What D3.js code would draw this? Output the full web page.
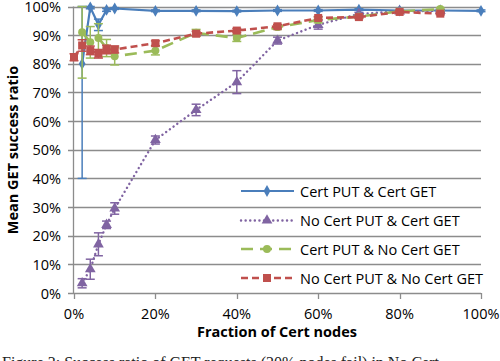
<!DOCTYPE html>
<html>
<head>
<meta charset="utf-8">
<script src="https://cdn.jsdelivr.net/npm/d3@7"></script>
<style>
  body { margin: 0; background: #fff; }
  svg { display: block; }
</style>
</head>
<body>
<svg width="500" height="361"></svg>
<script>
// Data
const xTicks = [0, 20, 40, 60, 80, 100];
const yTicks = [0, 10, 20, 30, 40, 50, 60, 70, 80, 90, 100];

const certCertX = [2, 4, 6, 8, 10, 20, 30, 40, 50, 60, 70, 80, 90, 100];
const certCertY = [80, 99.7, 93.6, 98.8, 99.3, 98.5, 98.5, 98.4, 98.6, 98.6, 98.9, 98.6, 98.6, 98.5];
const certCertE = [40, 0.5, 2, 0.5, 0.3, 0.3, 0.3, 0.3, 0.3, 0.3, 0.3, 0.3, 0.3, 0.3];

const noCertCertX = [2, 4, 6, 8, 10, 20, 30, 40, 50, 60, 70, 80, 90];
const noCertCertY = [3.4, 8.3, 17, 23.8, 29.5, 53.4, 63.9, 73.6, 88.1, 93.6, 97.4, 98.3, 98.5];
const noCertCertE = [1.6, 3.5, 4, 1.3, 2, 1.4, 2, 4, 1.2, 1.5, 0.5, 0.5, 0.5];

const certNoCertX = [2, 4, 6, 8, 10, 20, 30, 40, 50, 60, 70, 80, 90];
const certNoCertY = [91, 87.5, 89, 85.5, 82.6, 84.6, 90.8, 89, 92.8, 95.3, 96.5, 98.3, 99.1];
const certNoCertE = [16, 5.5, 5, 3, 3, 1.5, 1.2, 1.2, 0.8, 1, 0.5, 0.5, 0.5];

const noCertNoCertX = [0, 2, 4, 6, 8, 10, 20, 30, 40, 50, 60, 70, 80, 90];
const noCertNoCertY = [82.3, 86.4, 84.7, 83.5, 85, 85, 87.2, 90.5, 91.6, 93.1, 96, 96.3, 98.1, 97.5];
const noCertNoCertE = [1.2, 2, 1.5, 1.5, 1.5, 1.2, 0.8, 0.8, 0.7, 0.6, 0.5, 0.5, 0.4, 0.4];

const seriesNames = ["Cert PUT & Cert GET", "No Cert PUT & Cert GET", "Cert PUT & No Cert GET", "No Cert PUT & No Cert GET"];

const series = [
  { name: seriesNames[0], xs: certCertX, ys: certCertY, es: certCertE, color: "#4a7ebb", dash: null, width: 2.2, marker: "diamond", cap: "butt" },
  { name: seriesNames[1], xs: noCertCertX, ys: noCertCertY, es: noCertCertE, color: "#8064a2", dash: "0.1 4.5", width: 2.4, marker: "triangle", cap: "round" },
  { name: seriesNames[2], xs: certNoCertX, ys: certNoCertY, es: certNoCertE, color: "#9bbb59", dash: "12 7", width: 2.6, marker: "circle", cap: "butt" },
  { name: seriesNames[3], xs: noCertNoCertX, ys: noCertNoCertY, es: noCertNoCertE, color: "#c0504d", dash: "7 4", width: 2.6, marker: "square", cap: "butt" }
];

const svg = d3.select("svg");
const font = "'Open Sans', 'Liberation Sans', sans-serif";

const x = d3.scaleLinear().domain([0, 100]).range([74, 481]);
const y = d3.scaleLinear().domain([0, 100]).range([293, 6.5]);
const pct = d => d + "%";

// gridlines
svg.append("g")
  .selectAll("line")
  .data(yTicks)
  .join("line")
    .attr("x1", x(0) - 6)
    .attr("x2", x(100))
    .attr("y1", d => Math.round(y(d)) + 0.5)
    .attr("y2", d => Math.round(y(d)) + 0.5)
    .attr("stroke", "#8c8c8c")
    .attr("stroke-width", 1.3);

// y axis line
svg.append("line")
  .attr("x1", x(0) - 0.5).attr("x2", x(0) - 0.5)
  .attr("y1", y(100)).attr("y2", y(0))
  .attr("stroke", "#8c8c8c").attr("stroke-width", 1.3);

// x ticks
svg.append("g")
  .selectAll("line")
  .data(xTicks)
  .join("line")
    .attr("x1", d => Math.round(x(d)) + 0.5)
    .attr("x2", d => Math.round(x(d)) + 0.5)
    .attr("y1", y(0))
    .attr("y2", y(0) + 6)
    .attr("stroke", "#8c8c8c").attr("stroke-width", 1.3);

// tick labels
svg.append("g")
  .selectAll("text")
  .data(yTicks)
  .join("text")
    .attr("x", 61)
    .attr("y", d => y(d) + 5.5)
    .attr("text-anchor", "end")
    .attr("font-family", font)
    .attr("font-size", 14.5)
    .attr("fill", "#000")
    .text(pct);

svg.append("g")
  .selectAll("text")
  .data(xTicks)
  .join("text")
    .attr("x", d => x(d))
    .attr("y", 318.5)
    .attr("text-anchor", "middle")
    .attr("font-family", font)
    .attr("font-size", 14.5)
    .attr("fill", "#000")
    .text(pct);

// axis titles
svg.append("text")
  .attr("x", 277).attr("y", 337)
  .attr("text-anchor", "middle")
  .attr("font-family", font)
  .attr("font-weight", "bold")
  .attr("font-size", 14.5)
  .text("Fraction of Cert nodes");

svg.append("text")
  .attr("transform", "translate(18,150) rotate(-90)")
  .attr("text-anchor", "middle")
  .attr("font-family", font)
  .attr("font-weight", "bold")
  .attr("font-size", 14.5)
  .text("Mean GET success ratio");

// caption, cut at the bottom edge
svg.append("text")
  .attr("x", 2).attr("y", 368)
  .attr("font-family", "'Liberation Serif', serif")
  .attr("font-size", 16)
  .attr("fill", "#222")
  .text("Figure 3: Success ratio of GET requests (20% nodes fail) in No Cert");

const symbols = {
  diamond: d3.symbol(d3.symbolDiamond, 40),
  triangle: d3.symbol(d3.symbolTriangle, 50),
  circle: d3.symbol(d3.symbolCircle, 50),
  square: d3.symbol(d3.symbolSquare, 64)
};

const clamp = v => Math.max(0, Math.min(100, v));

series.forEach(s => {
  const pts = s.xs.map((xv, i) => ({ x: xv, y: s.ys[i], e: s.es[i] }));
  const g = svg.append("g");

  // error bars
  const eb = g.append("g").attr("stroke", s.color).attr("stroke-width", 1.5);
  pts.forEach(p => {
    const lo = clamp(p.y - p.e), hi = clamp(p.y + p.e);
    eb.append("line")
      .attr("x1", x(p.x)).attr("x2", x(p.x))
      .attr("y1", y(lo)).attr("y2", y(hi));
    [lo, hi].forEach(v => {
      eb.append("line")
        .attr("x1", x(p.x) - 4.5).attr("x2", x(p.x) + 4.5)
        .attr("y1", y(v)).attr("y2", y(v));
    });
  });

  // line
  g.append("path")
    .datum(pts)
    .attr("fill", "none")
    .attr("stroke", s.color)
    .attr("stroke-width", s.width)
    .attr("stroke-linecap", s.cap)
    .attr("stroke-dasharray", s.dash)
    .attr("d", d3.line().x(d => x(d.x)).y(d => y(d.y)));

  // markers
  g.selectAll(".m")
    .data(pts)
    .join("path")
      .attr("transform", d => `translate(${x(d.x)},${y(d.y)})`)
      .attr("d", symbols[s.marker])
      .attr("fill", s.color);
});

// legend
const legY = [191, 220.5, 249, 278];
const leg = svg.append("g");
series.forEach((s, i) => {
  const ly = legY[i];
  leg.append("line")
    .attr("x1", 241).attr("x2", 294)
    .attr("y1", ly).attr("y2", ly)
    .attr("stroke", s.color)
    .attr("stroke-width", s.width)
    .attr("stroke-linecap", s.cap)
    .attr("stroke-dasharray", s.dash);
  leg.append("path")
    .attr("transform", `translate(267,${ly})`)
    .attr("d", symbols[s.marker])
    .attr("fill", s.color);
  leg.append("text")
    .attr("x", 300).attr("y", ly + 5.5)
    .attr("font-family", font)
    .attr("font-size", 14.5)
    .text(s.name);
});
</script>
</body>
</html>
